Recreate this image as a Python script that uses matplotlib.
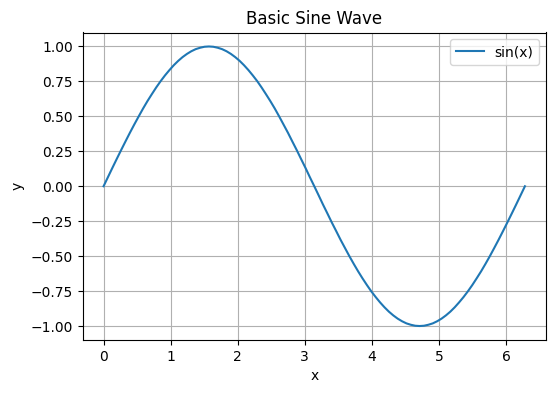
import matplotlib
matplotlib.use("Agg")
import matplotlib.pyplot as plt

x_vals = [0.000, 0.065, 0.131, 0.196, 0.262, 0.327, 0.393, 0.458, 0.524, 0.589, 0.654, 0.720,
          0.785, 0.851, 0.916, 0.982, 1.047, 1.113, 1.178, 1.244, 1.309, 1.374, 1.440, 1.505,
          1.571, 1.636, 1.702, 1.767, 1.833, 1.898, 1.963, 2.029, 2.094, 2.160, 2.225, 2.291,
          2.356, 2.421, 2.487, 2.553, 2.618, 2.683, 2.749, 2.814, 2.880, 2.945, 3.011, 3.076,
          3.142, 3.207, 3.272, 3.338, 3.403, 3.469, 3.534, 3.600, 3.665, 3.731, 3.796, 3.861,
          3.927, 3.992, 4.058, 4.123, 4.189, 4.254, 4.320, 4.385, 4.451, 4.516, 4.581, 4.647,
          4.712, 4.778, 4.843, 4.909, 4.974, 5.040, 5.105, 5.171, 5.236, 5.301, 5.367, 5.432,
          5.498, 5.563, 5.629, 5.694, 5.760, 5.825, 5.890, 5.956, 6.021, 6.087, 6.152, 6.218,
          6.283]
y_vals = [0.000, 0.065, 0.131, 0.195, 0.259, 0.321, 0.383, 0.442, 0.500, 0.556, 0.609, 0.659,
          0.707, 0.752, 0.793, 0.831, 0.866, 0.897, 0.924, 0.947, 0.966, 0.981, 0.991, 0.998,
          1.000, 0.998, 0.991, 0.981, 0.966, 0.947, 0.924, 0.897, 0.866, 0.831, 0.793, 0.752,
          0.707, 0.659, 0.609, 0.556, 0.500, 0.442, 0.383, 0.321, 0.259, 0.195, 0.131, 0.065,
          0.000, -0.065, -0.131, -0.195, -0.259, -0.321, -0.383, -0.442, -0.500, -0.556, -0.609, -0.659,
          -0.707, -0.752, -0.793, -0.831, -0.866, -0.897, -0.924, -0.947, -0.966, -0.981, -0.991, -0.998,
          -1.000, -0.998, -0.991, -0.981, -0.966, -0.947, -0.924, -0.897, -0.866, -0.831, -0.793, -0.752,
          -0.707, -0.659, -0.609, -0.556, -0.500, -0.442, -0.383, -0.321, -0.259, -0.195, -0.131, -0.065,
          0.000]

series_label = "sin(x)"
title = "Basic Sine Wave"

fig = plt.figure(figsize=(5.56, 3.93), dpi=100)
ax = fig.add_subplot(111)
fig.subplots_adjust(left=82.5/556, right=546/556, top=1-32.5/393, bottom=1-340/393)
ax.plot(x_vals, y_vals, label=series_label, color="#1f77b4")
ax.set_title(title)
ax.set_xlabel("x")
ax.set_ylabel("y")
ax.grid(True)
ax.legend(loc="upper right")
fig.savefig("out.png", dpi=100)
